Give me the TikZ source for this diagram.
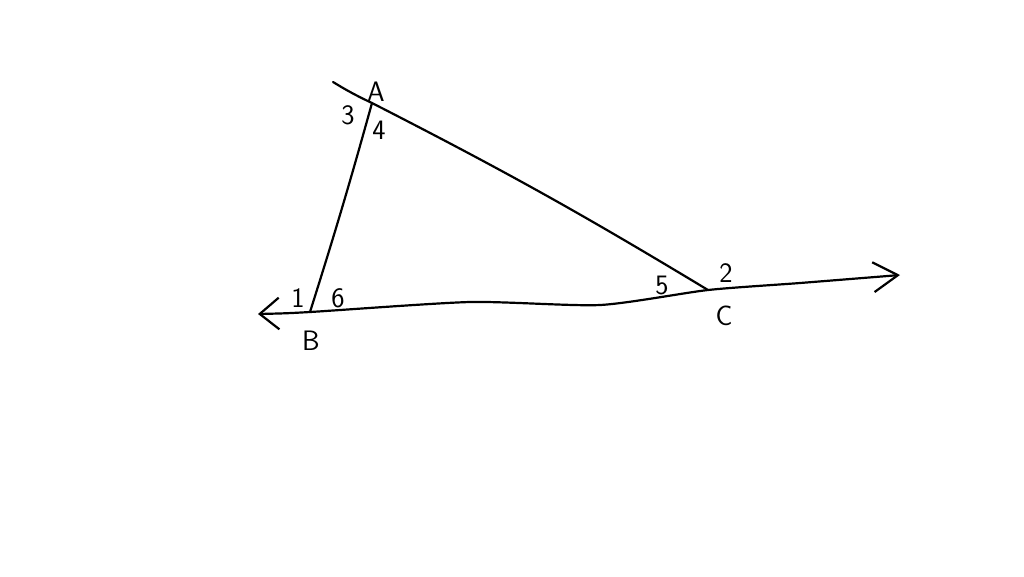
\documentclass[tikz,border=0pt]{standalone}
\usepackage{tikz}
\usetikzlibrary{arrows.meta}

\begin{document}
\begin{tikzpicture}[x=0.02cm, y=-0.02cm,
  side/.style={line width=1.25pt, line cap=round, line join=round},
  %
  ray/.style={side, {Straight Barb[length=11pt,width=18pt,line width=1.25pt]}-{Straight Barb[length=14pt,width=17pt,line width=1.25pt]}},
  %
  lbl/.style={font=\sffamily\fontsize{16}{18}\selectfont, inner sep=0pt}
  ]

  \useasboundingbox (0,0) rectangle (1024,576);

  % vertices and ends of the lines
  \coordinate (A) at (372,103);
  \coordinate (B) at (310,312);
  \coordinate (C) at (708,290);
  \coordinate (Aext) at (333,82);
  \coordinate (Lt) at (258,314);
  \coordinate (Rt) at (900,275);
  \coordinate (m1) at (470,302);
  \coordinate (m2) at (600,305);
  \coordinate (m3) at (800,283);

  \draw [side] (Aext) to[bend right=3] (A) to[bend left=2] (C);
  \draw [side] (A) to[bend left=1] (B);
  \draw [ray] plot [smooth, tension=0.4] coordinates {(Lt) (B) (m1) (m2) (C) (m3) (Rt)};

  % letters and angle numbers
  \node [lbl] (lA) at (376,92) {A};
  \node [lbl] (lB) at (311,341) {B};
  \node [lbl] (lC) at (724,316) {C};
  \node [lbl] (n3) at (348,115) {3};
  \node [lbl] (n4) at (379,130) {4};
  \node [lbl] (n1) at (298,298) {1};
  \node [lbl] (n6) at (338,298) {6};
  \node [lbl] (n5) at (662,285) {5};
  \node [lbl] (n2) at (726,273) {2};

\end{tikzpicture}
\end{document}
